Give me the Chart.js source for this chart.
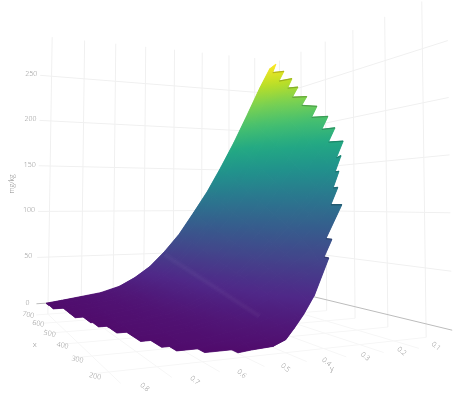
<!DOCTYPE html>
<html>
<head>
<meta charset="utf-8">
<style>html,body{margin:0;padding:0;background:#fff}canvas{display:block}</style>
<script src="https://cdn.jsdelivr.net/npm/chart.js@4/dist/chart.umd.min.js"></script>
</head>
<body>
<canvas id="surface" width="474" height="409"></canvas>
<script>
// tick labels
const xTicks = [200, 300, 400, 500, 600, 700];
const yTicks = [0.1, 0.2, 0.3, 0.4, 0.5, 0.6, 0.7, 0.8];
const zTicks = [0, 50, 100, 150, 200, 250];

// surface rows (x) and columns (y)
const rowX = [700, 690, 665, 620, 600, 560, 505, 480, 445, 402, 390, 370, 340, 310, 285, 265, 215, 185, 160, 140];
const colY = [0.04, 0.08, 0.13, 0.18, 0.23, 0.28, 0.33, 0.38, 0.43, 0.48, 0.53, 0.58, 0.64, 0.70, 0.76];
const zRows = [
  [282, 256, 220, 185, 153, 123, 97, 72, 52, 35, 23, 14, 8, 5, 2],
  [272, 252, 217, 182, 151, 121, 96, 71, 51, 35, 23, 14, 8, 5, 2],
  [258, 240, 209, 176, 145, 117, 92, 68, 49, 33, 22, 13, 8, 5, 2],
  [247, 226, 195, 164, 136, 109, 86, 64, 46, 31, 20, 12, 8, 4, 2],
  [234, 219, 189, 159, 131, 105, 83, 62, 45, 30, 20, 12, 7, 4, 2],
  [221, 205, 176, 148, 122, 98, 78, 58, 42, 28, 18, 11, 7, 4, 2],
  [null, 188, 159, 133, 110, 89, 70, 52, 37, 25, 17, 10, 6, 4, null],
  [188, 176, 151, 127, 105, 84, 67, 49, 36, 24, 16, 10, 6, 3, null],
  [null, 163, 140, 118, 97, 78, 62, 46, 33, 22, 15, 9, 5, 3, null],
  [null, 147, 126, 106, 88, 71, 56, 41, 30, 20, 13, 8, 5, 3, null],
  [null, 140, 122, 103, 85, 69, 54, 40, 29, 19, 13, 8, 5, 3, null],
  [null, null, 116, 98, 81, 65, 51, 38, 28, 19, 12, 7, 4, 3, null],
  [null, null, null, 90, 74, 60, 47, 35, 25, 17, 11, 7, 4, 2, null],
  [null, null, null, null, 65, 54, 43, 32, 23, 16, 10, 6, 4, 2, null],
  [null, null, null, null, 55, 48, 39, 29, 21, 14, 9, 6, 3, 2, null],
  [null, null, null, null, 56, 46, 37, 27, 20, 13, 9, 5, 3, null, null],
  [null, null, null, null, null, null, 28, 21, 15, 10, 7, 4, 2, null, null],
  [null, null, null, null, null, null, null, 17, 12, 8, 5, 3, null, null, null],
  [null, null, null, null, null, null, null, null, 10, 6, 4, null, null, null, null],
  [null, null, null, null, null, null, null, null, null, 2, 1, null, null, null, null]
];

// jagged edges of the surface, per row
const tipY = [0.0145, 0.036, 0.0113, 0.018, 0.012, 0.014, 0.027, 0.0107, 0.02, 0.035, 0.055, 0.0825, 0.117, 0.135, 0.1916, 0.221, 0.31, 0.366, 0.411, 0.45];
const tipZ = [289, 276, 276, 262, 250, 235, 219, 206, 191, 174, 158, 141, 124, 107, 75, 59, 31, 19, 12, 6];
const innerY = [0.0145, 0.036, 0.0314, 0.035, 0.034, 0.0336, 0.047, 0.0337, 0.0438, 0.059, 0.0755, 0.1026, 0.14, 0.1855, 0.2156, 0.221, 0.31, 0.366, 0.411, 0.45];
const innerZ = [289, 276, 263, 250, 237, 224, 206, 191, 175, 156, 141, 124, 107, 75, 59, 59, 31, 19, 12, 6];
const frontY = [0.806, 0.806, 0.804, 0.776, 0.776, 0.776, 0.755, 0.755, 0.75, 0.73, 0.729, 0.729, 0.706, 0.706, 0.706, 0.683, 0.666, 0.62, 0.56, 0.56];

// lighter crease across the surface
const creaseX = [700, 285];
const creaseY = [0.43, 0.40];
const creaseZ = [48, 10];

const viridis = ['#500b6c', '#4f2888', '#42468b', '#355f8d', '#2a788e', '#21918c', '#22a884', '#44bf70', '#7ad151', '#bddf26', '#fde725'];
const zTop = 289;

const axisRange = {xLow: 140, xHigh: 700, yLow: 0, yHigh: 0.834, zLow: -12, zHigh: 294};

// camera fitted to the reference, gives canvas coordinates
function project(x, y, z) {
  const a = (700 - x) / 500, b = y, c = z / 250;
  const w = 1 - 0.296 * a - 0.18 * b + 0.015 * c;
  return {
    x: (280 + 19.9 * a - 298.6 * b + 3.8 * c) / w,
    y: (288.6 - 60.6 * a - 36.5 * b - 193 * c) / w
  };
}

function hexToRgb(h) {
  return [parseInt(h.slice(1, 3), 16), parseInt(h.slice(3, 5), 16), parseInt(h.slice(5, 7), 16)];
}

function colorAt(z, dark) {
  const t = Math.max(0, Math.min(1, z / zTop)) * (viridis.length - 1);
  const i = Math.min(viridis.length - 2, Math.floor(t));
  const p = hexToRgb(viridis[i]), q = hexToRgb(viridis[i + 1]);
  const k = dark || 1;
  const c = p.map((v, n) => Math.round((v + (q[n] - v) * (t - i)) * k));
  return 'rgb(' + c.join(',') + ')';
}

// row points, with the column index kept so two rows can be stitched
function rowCols(r) {
  const out = [];
  zRows[r].forEach((z, c) => {
    if (z !== null && colY[c] > innerY[r] && colY[c] < frontY[r]) out.push({x: rowX[r], y: colY[c], z: z, c: c});
  });
  return out;
}

function departRow(r) {
  return [{x: rowX[r], y: innerY[r], z: innerZ[r]}]
    .concat(rowCols(r), [{x: rowX[r], y: frontY[r], z: 0}]);
}

function arriveRow(r) {
  const pts = [{x: rowX[r], y: tipY[r], z: tipZ[r]}, {x: rowX[r], y: innerY[r], z: innerZ[r]}]
    .concat(rowCols(r), [{x: rowX[r], y: frontY[r], z: 0}]);
  if (frontY[r - 1] !== frontY[r]) pts.push({x: rowX[r], y: frontY[r - 1], z: 0});
  return pts;
}

function ribbonCells(r) {
  const a = departRow(r), b = arriveRow(r + 1);
  const common = a.filter(p => p.c !== undefined && b.some(q => q.c === p.c)).map(p => p.c);
  if (!common.length) return [a.concat(b.slice().reverse())];
  const idx = (list, c) => list.findIndex(p => p.c === c);
  const cells = [];
  const first = common[0], last = common[common.length - 1];
  cells.push(a.slice(0, idx(a, first) + 1).concat(b.slice(0, idx(b, first) + 1).reverse()));
  for (let n = 0; n < common.length - 1; n++) {
    const c0 = common[n], c1 = common[n + 1];
    cells.push([a[idx(a, c0)], a[idx(a, c1)], b[idx(b, c1)], b[idx(b, c0)]]);
  }
  cells.push(a.slice(idx(a, last)).concat(b.slice(idx(b, last)).reverse()));
  return cells;
}

// fill follows the slope of z over the cell, so next cells line up
function cellGradient(chart, cell) {
  const sx = chart.scales.x, sy = chart.scales.y;
  const zs = cell.map(p => p.z);
  const zLo = Math.min(...zs), zHi = Math.max(...zs);
  if (zHi - zLo < 0.5 || !sx || !chart.chartArea) return colorAt(zHi);
  const pts = cell.map(p => {
    const q = project(p.x, p.y, p.z);
    return {x: sx.getPixelForValue(q.x), y: sy.getPixelForValue(q.y), z: p.z};
  });
  if (!pts.every(p => Number.isFinite(p.x) && Number.isFinite(p.y))) return colorAt(zHi);
  const n = pts.length;
  const mx = pts.reduce((s, p) => s + p.x, 0) / n;
  const my = pts.reduce((s, p) => s + p.y, 0) / n;
  const mz = pts.reduce((s, p) => s + p.z, 0) / n;
  let xx = 0, xy = 0, yy = 0, xz = 0, yz = 0;
  pts.forEach(p => {
    const dx = p.x - mx, dy = p.y - my, dz = p.z - mz;
    xx += dx * dx; xy += dx * dy; yy += dy * dy; xz += dx * dz; yz += dy * dz;
  });
  const det = xx * yy - xy * xy;
  if (Math.abs(det) < 1e-6) return colorAt(mz);
  const gx = (xz * yy - yz * xy) / det, gy = (yz * xx - xz * xy) / det;
  const len = gx * gx + gy * gy;
  if (len < 1e-9) return colorAt(mz);
  const g = chart.ctx.createLinearGradient(
    mx + gx * (zLo - mz) / len, my + gy * (zLo - mz) / len,
    mx + gx * (zHi - mz) / len, my + gy * (zHi - mz) / len);
  for (let i = 0; i <= 4; i++) g.addColorStop(i / 4, colorAt(zLo + (zHi - zLo) * i / 4));
  return g;
}

function gridLine(p, q, color, width) {
  return {
    data: [project(p[0], p[1], p[2]), project(q[0], q[1], q[2])],
    showLine: true, pointRadius: 0, fill: false,
    borderColor: color, borderWidth: width, order: 5
  };
}

const datasets = [];
const R = axisRange;
const wallColor = '#f0f0f0', floorColor = '#f6f6f6';

zTicks.forEach(z => {
  const c = z === 0 ? '#bcbcbc' : wallColor;
  datasets.push(gridLine([R.xHigh, R.yHigh, z], [R.xHigh, R.yLow, z], c, 1));
  datasets.push(gridLine([R.xHigh, R.yLow, z], [R.xLow, R.yLow, z], c, 1));
});
yTicks.forEach(y => {
  datasets.push(gridLine([R.xHigh, y, R.zLow], [R.xHigh, y, R.zHigh], wallColor, 1));
  datasets.push(gridLine([R.xHigh, y, R.zLow], [R.xLow, y, R.zLow], floorColor, 1));
});
xTicks.forEach(x => {
  datasets.push(gridLine([x, R.yLow, R.zLow], [x, R.yLow, R.zHigh], wallColor, 1));
  datasets.push(gridLine([x, R.yLow, R.zLow], [x, R.yHigh, R.zLow], floorColor, 1));
});

for (let r = 0; r < rowX.length - 1; r++) {
  ribbonCells(r).forEach(cell => {
    const closed = cell.concat([cell[0]]).map(p => project(p.x, p.y, p.z));
    // backing pass with a stroke hides the seams of the fill pass on top
    datasets.push({
      data: closed, showLine: true, pointRadius: 0, fill: 'shape', order: 4, borderWidth: 0.8,
      backgroundColor: ctx => cellGradient(ctx.chart, cell),
      borderColor: ctx => cellGradient(ctx.chart, cell)
    });
    datasets.push({
      data: closed, showLine: true, pointRadius: 0, fill: 'shape', order: 3, borderWidth: 0,
      backgroundColor: ctx => cellGradient(ctx.chart, cell)
    });
  });
  // dark underside of each tooth
  if (tipY[r + 1] !== innerY[r + 1] || r === 14) {
    datasets.push({
      data: [project(rowX[r], innerY[r], innerZ[r]), project(rowX[r + 1], tipY[r + 1], tipZ[r + 1])],
      showLine: true, pointRadius: 0, fill: false, order: 1, borderWidth: 1.3,
      borderColor: colorAt(tipZ[r + 1], 0.8)
    });
  }
}

[6, 3].forEach(width => {
  datasets.push({
    data: creaseX.map((x, i) => project(x, creaseY[i], creaseZ[i])),
    showLine: true, pointRadius: 0, fill: false, order: 2, borderWidth: width,
    borderColor: 'rgba(255,255,255,0.02)'
  });
});

const tickLabels = {
  id: 'tickLabels',
  afterDraw(chart) {
    const c = chart.ctx, sx = chart.scales.x, sy = chart.scales.y;
    const put = (text, p, dx, dy, angle, size) => {
      c.save();
      c.translate(sx.getPixelForValue(p.x) + dx, sy.getPixelForValue(p.y) + dy);
      c.rotate(angle * Math.PI / 180);
      c.font = '300 ' + size + 'px "Open Sans"';
      c.fillStyle = '#8a8a8a';
      c.textAlign = 'center';
      c.textBaseline = 'middle';
      c.fillText(text, 0, 0);
      c.restore();
    };
    zTicks.forEach(z => put(String(z), project(R.xHigh, R.yHigh, z), -9, -1, 0, 7));
    xTicks.forEach(x => {
      const a = (700 - x) / 500;
      put(String(x), project(x, R.yHigh, R.zLow), -8 + 11.5 * a, 2.5 * a, 12, 7);
    });
    yTicks.forEach(y => {
      put(y.toFixed(1), project(R.xLow, y, R.zLow), 16 + 10 * y, -3 + 8.6 * y, 40, 7);
    });
    put('x', project(400, R.yHigh, R.zLow), -29, 1, 0, 8);
    put('y', project(R.xLow, 0.37, R.zLow), 13, 9, 0, 8);
    put('mg/kg', project(R.xHigh, R.yHigh, 130), -26, 0, -90, 7);
  }
};

new Chart(document.getElementById('surface'), {
  type: 'scatter',
  data: {datasets: datasets},
  options: {
    responsive: false,
    animation: false,
    events: [],
    layout: {padding: 0},
    plugins: {legend: {display: false}, tooltip: {enabled: false}},
    scales: {
      x: {type: 'linear', display: false, min: 0, max: 474},
      y: {type: 'linear', display: false, min: 0, max: 409, reverse: true}
    }
  },
  plugins: [tickLabels]
});
</script>
</body>
</html>
